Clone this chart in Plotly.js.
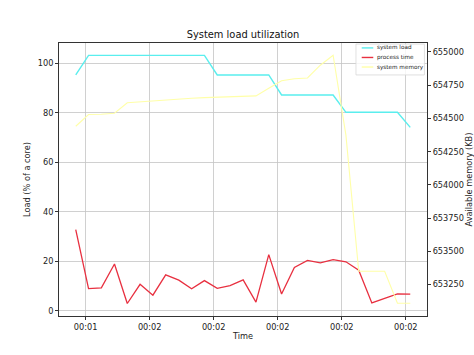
<!DOCTYPE html>
<html>
<head>
<meta charset="utf-8">
<script src="https://cdn.plot.ly/plotly-3.0.1.min.js"></script>
<style>html,body{margin:0;padding:0;background:#fff;}#chart{width:474px;height:355px;}</style>
</head>
<body>
<div id="chart"></div>
<script>
// Sample times in seconds
var times = [1.769, 1.809, 1.849, 1.890, 1.930, 1.970, 2.010, 2.050, 2.091, 2.131,
             2.171, 2.211, 2.251, 2.292, 2.332, 2.372, 2.412, 2.452, 2.493, 2.533,
             2.573, 2.613, 2.653, 2.694, 2.734, 2.774, 2.814];

// System load (% of a core)
var systemLoad = [95.3, 103.2, 103.2, 103.2, 103.2, 103.2, 103.2, 103.2, 103.2, 103.2,
                  103.2, 95.3, 95.3, 95.3, 95.3, 95.3, 87.2, 87.2, 87.2, 87.2,
                  87.2, 80.2, 80.2, 80.2, 80.2, 80.2, 74.1];

// Process time (% of a core)
var processTime = [32.8, 9.0, 9.3, 18.9, 2.95, 10.7, 6.3, 14.5, 12.4, 8.9,
                   12.2, 9.1, 10.2, 12.5, 3.5, 22.7, 6.8, 17.5, 20.4, 19.4,
                   20.7, 19.8, 16.4, 3.2, 5.0, 6.8, 6.7];

// Available memory (KB)
var systemMemory = [654441, 654529, 654531, 654539, 654618, 654625, 654632, 654640, 654648, 654652,
                    654656, 654659, 654663, 654667, 654669, 654727, 654783, 654798, 654804, 654900,
                    654975, 654374, 653351, 653351, 653351, 653110, 653110];

var xTickVals = [1.8, 2.0, 2.2, 2.4, 2.6, 2.8];
var xTickText = ["00:01", "00:02", "00:02", "00:02", "00:02", "00:02"];
var leftTicks = [0, 20, 40, 60, 80, 100];
var rightTicks = [653250, 653500, 653750, 654000, 654250, 654500, 654750, 655000];

var seriesNames = ["system load", "process time", "system memory"];
var seriesColors = ["rgb(90,238,238)", "rgb(232,48,64)", "rgb(255,255,168)"];

var traces = [
  {x: times, y: systemLoad, type: "scatter", mode: "lines", name: seriesNames[0],
   line: {color: seriesColors[0], width: 1.4}, showlegend: false},
  {x: times, y: processTime, type: "scatter", mode: "lines", name: seriesNames[1],
   line: {color: seriesColors[1], width: 1.3}, showlegend: false},
  {x: times, y: systemMemory, type: "scatter", mode: "lines", name: seriesNames[2],
   line: {color: seriesColors[2], width: 1.1}, yaxis: "y2", showlegend: false}
];

var font = {family: "DejaVu Sans, sans-serif", size: 8.2, color: "#222"};

// Manual compact legend (matplotlib style)
var shapes = [{type: "rect", xref: "paper", yref: "paper", x0: 0.807, x1: 0.993, y0: 0.883, y1: 0.996,
               line: {color: "#d8d8d8", width: 0.8}, fillcolor: "rgba(255,255,255,0.8)", layer: "above"}];
var annotations = [];
var rowsY = [0.982, 0.947, 0.912];
for (var i = 0; i < seriesNames.length; i++) {
  shapes.push({type: "line", xref: "paper", yref: "paper", x0: 0.8226, x1: 0.854, y0: rowsY[i], y1: rowsY[i],
               line: {color: seriesColors[i], width: 1.4}, layer: "above"});
  annotations.push({xref: "paper", yref: "paper", x: 0.861, y: rowsY[i], xanchor: "left", yanchor: "middle",
                    text: seriesNames[i], showarrow: false, borderpad: 0,
                    font: {family: "DejaVu Sans, sans-serif", size: 5.7, color: "#222"}});
}

var layout = {
  width: 474, height: 355,
  margin: {l: 59, r: 47, t: 43, b: 39, pad: 0},
  paper_bgcolor: "#fff", plot_bgcolor: "#fff",
  font: font,
  title: {text: "System load utilization", font: {family: "DejaVu Sans, sans-serif", size: 9.9, color: "#111"},
          x: 0.5, xanchor: "center", xref: "paper", y: 0.902, yanchor: "middle", yref: "container"},
  xaxis: {range: [1.7167, 2.8663], tickvals: xTickVals, ticktext: xTickText,
          showgrid: true, gridcolor: "#c4c4c4", gridwidth: 0.8, zeroline: false,
          showline: true, linecolor: "#333", linewidth: 1, mirror: true,
          ticks: "outside", ticklen: 3, tickcolor: "#333",
          title: {text: "Time", font: font, standoff: 2}, tickfont: font},
  yaxis: {range: [-2.1, 108.2], tickvals: leftTicks, showgrid: true, gridcolor: "#c4c4c4", gridwidth: 0.8,
          zeroline: false, showline: true, linecolor: "#333", linewidth: 1,
          ticks: "outside", ticklen: 3, tickcolor: "#333",
          title: {text: "Load (% of a core)", font: font, standoff: 5}, tickfont: font},
  yaxis2: {range: [653014, 655067], tickvals: rightTicks, overlaying: "y", side: "right",
           showgrid: false, zeroline: false, showline: true, linecolor: "#333", linewidth: 1,
           ticks: "outside", ticklen: 3, tickcolor: "#333", tickformat: "d",
           title: {text: "Available memory (KB)", font: font, standoff: 3}, tickfont: font},
  shapes: shapes,
  annotations: annotations
};

Plotly.newPlot("chart", traces, layout, {staticPlot: true, displayModeBar: false});
</script>
</body>
</html>
